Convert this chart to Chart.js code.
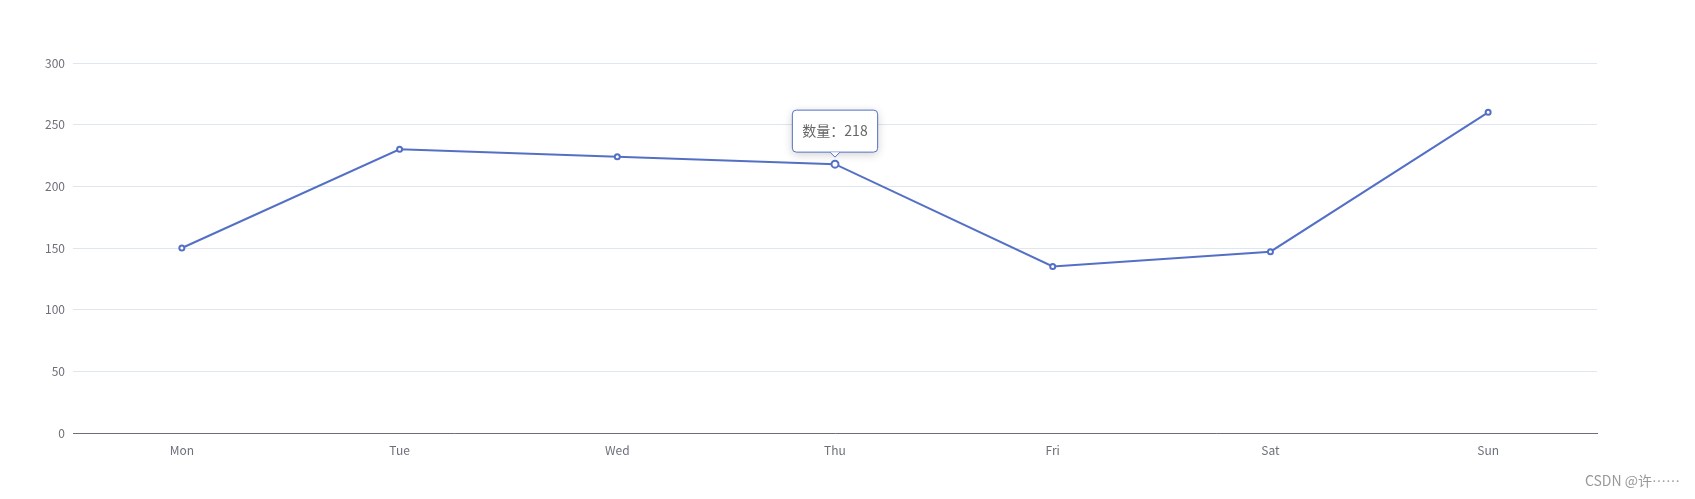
<!DOCTYPE html>
<html lang="en">
<head>
<meta charset="UTF-8">
<script src="https://cdn.jsdelivr.net/npm/chart.js@4.4.0/dist/chart.umd.min.js"></script>
<style>
  html, body { margin: 0; padding: 0; background: #fff; }
  #wrap { position: relative; width: 1695px; height: 499px; }
  #mark { position: absolute; right: 15px; top: 470px; font: 14px "Noto Sans CJK SC", sans-serif; color: #999; }
</style>
</head>
<body>
<div id="wrap">
  <canvas id="chart" width="1695" height="499"></canvas>
  <div id="mark">CSDN @许……</div>
</div>
<script>
const days = ['Mon', 'Tue', 'Wed', 'Thu', 'Fri', 'Sat', 'Sun'];
const counts = [150, 230, 224, 218, 135, 147, 260];
const yTicks = [0, 50, 100, 150, 200, 250, 300];
const tipIndex = 3;

const font = { family: '"Microsoft YaHei", "Noto Sans CJK SC", sans-serif', size: 12 };

// static tooltip like the hovered point in the reference
const tipPlugin = {
  id: 'tip',
  afterDraw(chart) {
    const ctx = chart.ctx;
    const pt = chart.getDatasetMeta(0).data[tipIndex];
    const text = '数量：' + counts[tipIndex];
    ctx.save();
    ctx.font = '14px "Noto Sans CJK SC", sans-serif';
    const w = ctx.measureText(text).width + 20, h = 42;
    const x = pt.x - w / 2, y = pt.y - 12 - h;
    ctx.shadowColor = 'rgba(0,0,0,0.2)';
    ctx.shadowBlur = 10;
    ctx.shadowOffsetY = 2;
    ctx.fillStyle = '#fff';
    ctx.strokeStyle = '#5470c6';
    ctx.lineWidth = 1;
    ctx.beginPath();
    ctx.roundRect(x, y, w, h, 4);
    ctx.fill();
    ctx.shadowColor = 'transparent';
    ctx.stroke();
    // arrow
    ctx.beginPath();
    ctx.moveTo(pt.x - 5, y + h);
    ctx.lineTo(pt.x, y + h + 5);
    ctx.lineTo(pt.x + 5, y + h);
    ctx.closePath();
    ctx.fill();
    ctx.beginPath();
    ctx.moveTo(pt.x - 5, y + h);
    ctx.lineTo(pt.x, y + h + 5);
    ctx.lineTo(pt.x + 5, y + h);
    ctx.stroke();
    ctx.fillStyle = '#666';
    ctx.textBaseline = 'middle';
    ctx.fillText(text, x + 10, y + h / 2);
    ctx.restore();
  }
};

new Chart(document.getElementById('chart'), {
  type: 'line',
  data: {
    labels: days,
    datasets: [{
      data: counts,
      borderColor: '#5470c6',
      borderWidth: 2,
      backgroundColor: '#fff',
      pointBorderColor: '#5470c6',
      pointBorderWidth: 2,
      pointRadius: counts.map((v, i) => i === tipIndex ? 3.5 : 2.5),
      tension: 0
    }]
  },
  options: {
    responsive: false,
    animation: false,
    layout: { padding: { top: 63, right: 98, left: 0, bottom: 0 } },
    plugins: { legend: { display: false }, tooltip: { enabled: false } },
    scales: {
      x: {
        offset: true,
        grid: { display: false, offset: true, drawOnChartArea: false, drawTicks: true, tickLength: 6, color: '#6e7079' },
        border: { color: '#6e7079', width: 1 },
        ticks: { color: '#6e7079', font: font, padding: 4 },
        afterFit(s) { s.height = 66; }
      },
      y: {
        min: 0, max: 300,
        afterBuildTicks(s) { s.ticks = yTicks.map(v => ({ value: v })); },
        grid: { color: '#e0e6f1', drawTicks: false },
        border: { display: false },
        ticks: { color: '#6e7079', font: font, padding: 8 },
        afterFit(s) { s.width = 73; }
      }
    }
  },
  plugins: [tipPlugin]
});
</script>
</body>
</html>
